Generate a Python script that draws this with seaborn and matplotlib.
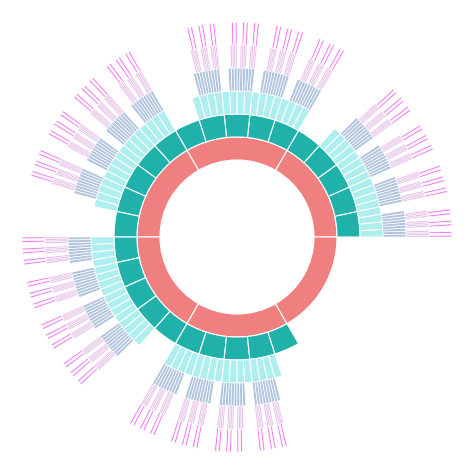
import numpy as np
import pandas as pd
import matplotlib
matplotlib.use("Agg")
import matplotlib.pyplot as plt
import seaborn as sns

# number of children per node, root first; the last child of every node is a leaf
branching = [6, 5, 4, 3, 2, 1]
level_colors = ["lightcoral", "lightseagreen", "paleturquoise",
                "lightsteelblue", "#e8c4ea", "violet"]
edge_widths = [0.8, 0.8, 0.7, 0.5, 0.3, 0.5]
hole_radius = 77
ring_width = 23


# equal-split partition layout, counterclockwise from east
def build_partition(n_children, depth=1, start=0.0, span=2 * np.pi, rows=None):
    if rows is None:
        rows = []
    w = span / n_children
    for i in range(n_children):
        s = start + i * w
        rows.append({"depth": depth, "start": s, "width": w})
        if i < n_children - 1 and depth < len(branching):
            build_partition(branching[depth], depth + 1, s, w, rows)
    return rows


def plot_sunburst(df, output_path="out.png"):
    sns.set_style("white")
    fig = plt.figure(figsize=(4.74, 4.74), dpi=100)
    ax = fig.add_axes([0, 0, 1, 1], projection="polar")
    for depth, grp in df.groupby("depth"):
        ax.bar(grp["start"], ring_width, width=grp["width"],
               bottom=hole_radius + (depth - 1) * ring_width,
               align="edge", color=level_colors[depth - 1],
               edgecolor="white", linewidth=edge_widths[depth - 1])
    ax.set_ylim(0, 237)
    ax.axis("off")
    fig.savefig(output_path, dpi=100)
    plt.close(fig)


if __name__ == "__main__":
    nodes = pd.DataFrame(build_partition(branching[0]))
    plot_sunburst(nodes)
